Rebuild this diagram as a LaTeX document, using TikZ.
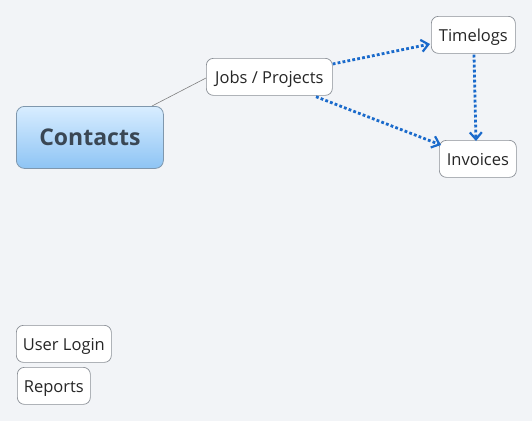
\documentclass[tikz,border=0pt]{standalone}
\usepackage{fontspec}
\setmainfont{Open Sans}
\usetikzlibrary{arrows.meta,calc}
\definecolor{bg}{HTML}{F2F4F7}
\definecolor{boxborder}{HTML}{8A8F96}
\definecolor{arrowblue}{HTML}{1A6ACB}
\definecolor{ctext}{HTML}{3A4754}
\definecolor{ctop}{HTML}{D8EDFF}
\definecolor{cbot}{HTML}{8EC4F4}
\definecolor{cborder}{HTML}{7F97AD}
\tikzset{
  topic/.style={draw=boxborder, line width=0.7pt, fill=white, rounded corners=7pt,
    font=\fontsize{16.5}{19}\selectfont, text=black!85, inner sep=0pt, anchor=north west,
    text depth=0pt, text height=14pt},
  central/.style={draw=cborder, line width=0.8pt, top color=ctop, bottom color=cbot,
    rounded corners=8pt, font=\fontsize{23}{26}\selectfont\bfseries, text=ctext,
    inner sep=0pt, anchor=north west},
  rel/.style={draw=arrowblue, line width=2.8pt, dash pattern=on 2.8pt off 2.2pt,
    -{Straight Barb[length=7pt,width=12pt,line width=2.2pt]}},
  branch/.style={draw=black!50, line width=0.6pt}
}
\begin{document}
\begin{tikzpicture}[x=1pt,y=-1pt]
\fill[bg] (0,0) rectangle (532,421);
\useasboundingbox (0,0) rectangle (532,421);
\node[central, minimum width=147pt, minimum height=62pt] (contacts) at (16,106) {Contacts};
\node[topic, minimum width=126pt, minimum height=37pt] (jobs) at (206,58) {Jobs / Projects};
\node[topic, minimum width=84pt, minimum height=37pt] (time) at (431,16) {Timelogs};
\node[topic, minimum width=77pt, minimum height=37pt] (inv) at (439,140) {Invoices};
\node[topic, minimum width=95pt, minimum height=37pt] (login) at (16,325) {User Login};
\node[topic, minimum width=73pt, minimum height=37pt] (rep) at (17,367) {Reports};
\coordinate (cA) at ($(contacts.north west)+(136,0)$);
\coordinate (jA) at ($(jobs.north west)+(0,20)$);
\draw[branch] (cA) -- (jA);
\draw[rel] ($(jobs.north east)+(0,6)$) -- ($(time.north west)+(-1,28)$);
\draw[rel] ($(jobs.south west)+(110,1)$) -- ($(inv.north west)+(2,5)$);
\draw[rel] ($(time.south west)+(43,1)$) -- ($(inv.north west)+(37,1)$);
\end{tikzpicture}
\end{document}
